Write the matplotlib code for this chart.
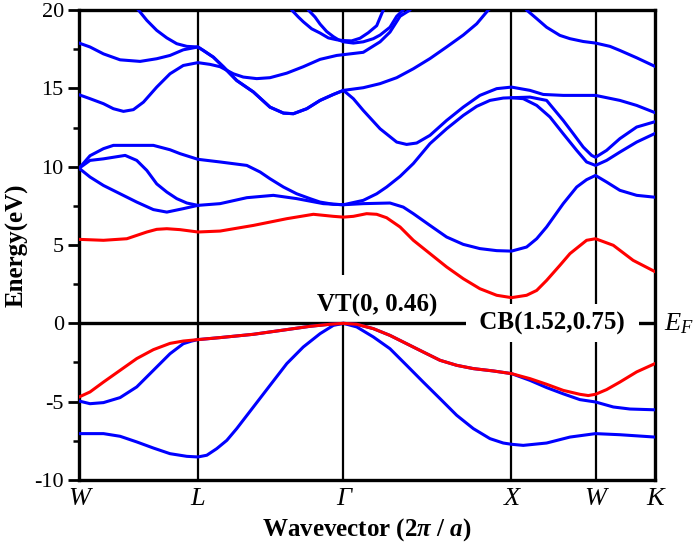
import matplotlib.pyplot as plt
from matplotlib.ticker import MultipleLocator
from matplotlib.transforms import blended_transform_factory

plt.rcParams['font.family'] = 'Liberation Serif'
plt.rcParams['axes.unicode_minus'] = False
plt.rcParams['mathtext.fontset'] = 'custom'
plt.rcParams['mathtext.rm'] = 'Liberation Serif'
plt.rcParams['mathtext.it'] = 'Liberation Serif:italic'
plt.rcParams['mathtext.bf'] = 'Liberation Serif:bold'
plt.rcParams['mathtext.bfit'] = 'Liberation Serif:bold:italic'

# high-symmetry points along the path (units of 2pi/a)
kpt_names = ['W', 'L', 'Γ', 'X', 'W', 'K']
kpt_pos = [0.0, 0.707, 1.573, 2.573, 3.073, 3.427]

# --- valence bands ---
v1_k = [0, 0.065, 0.145, 0.244, 0.343, 0.442, 0.541, 0.620, 0.707, 0.839, 1.037,
        1.236, 1.374, 1.493, 1.573, 1.652, 1.751, 1.850, 1.949, 2.048, 2.148,
        2.247, 2.346, 2.465, 2.573, 2.683, 2.782, 2.881, 2.980, 3.030, 3.073,
        3.139, 3.218, 3.318, 3.427]
v1_e = [-4.7, -4.38, -3.75, -3.0, -2.25, -1.68, -1.28, -1.13, -1.04, -0.91, -0.70,
        -0.40, -0.19, -0.06, 0.0, -0.06, -0.34, -0.77, -1.3, -1.83, -2.36,
        -2.68, -2.89, -3.04, -3.21, -3.53, -3.89, -4.28, -4.53, -4.61, -4.53,
        -4.23, -3.75, -3.1, -2.57]

v2_k = [0, 0.065, 0.145, 0.244, 0.343, 0.442, 0.541, 0.620, 0.670, 0.707, 0.839,
        1.037, 1.236, 1.374, 1.493, 1.573, 1.652, 1.751, 1.850, 1.949, 2.048,
        2.148, 2.247, 2.346, 2.465, 2.573, 2.683, 2.782, 2.881, 2.980, 3.073,
        3.179, 3.278, 3.427]
v2_e = [-4.96, -5.13, -5.06, -4.74, -4.06, -3.0, -1.94, -1.3, -1.13, -1.04, -0.91,
        -0.70, -0.40, -0.19, -0.06, 0.0, -0.06, -0.34, -0.77, -1.3, -1.83,
        -2.36, -2.68, -2.89, -3.04, -3.21, -3.64, -4.1, -4.5, -4.87, -5.02,
        -5.34, -5.47, -5.52]

v3_k = [0, 0.145, 0.244, 0.343, 0.442, 0.541, 0.641, 0.707, 0.760, 0.819, 0.879,
        0.938, 1.037, 1.136, 1.236, 1.334, 1.434, 1.513, 1.573, 1.652, 1.751,
        1.850, 1.949, 2.048, 2.148, 2.247, 2.346, 2.445, 2.524, 2.573, 2.643,
        2.782, 2.921, 3.073, 3.218, 3.427]
v3_e = [-7.04, -7.04, -7.21, -7.57, -7.96, -8.32, -8.49, -8.53, -8.42, -8.0, -7.47,
        -6.72, -5.34, -3.96, -2.57, -1.51, -0.66, -0.13, 0.0, -0.23, -0.87,
        -1.62, -2.68, -3.75, -4.81, -5.87, -6.72, -7.36, -7.64, -7.72, -7.79,
        -7.64, -7.26, -7.04, -7.11, -7.26]

# --- conduction bands ---
c1_k = [0, 0.145, 0.284, 0.403, 0.462, 0.522, 0.601, 0.707, 0.839, 1.037, 1.236,
        1.394, 1.513, 1.573, 1.632, 1.711, 1.771, 1.830, 1.910, 1.989, 2.088,
        2.187, 2.286, 2.385, 2.485, 2.573, 2.663, 2.723, 2.782, 2.861, 2.921,
        3.020, 3.073, 3.179, 3.297, 3.427]
c1_e = [5.36, 5.3, 5.4, 5.83, 6.0, 6.04, 5.98, 5.83, 5.89, 6.25, 6.68,
        6.96, 6.83, 6.78, 6.83, 7.0, 6.96, 6.74, 6.15, 5.3, 4.45,
        3.6, 2.85, 2.21, 1.79, 1.64, 1.79, 2.1, 2.74, 3.7, 4.45,
        5.3, 5.4, 4.98, 4.02, 3.3]

c2_k = [0, 0.065, 0.145, 0.244, 0.343, 0.442, 0.522, 0.620, 0.707, 0.839, 0.998,
        1.156, 1.295, 1.453, 1.573, 1.691, 1.850, 1.929, 1.989, 2.088, 2.187,
        2.286, 2.385, 2.485, 2.573, 2.663, 2.723, 2.782, 2.881, 2.961, 3.020,
        3.073, 3.139, 3.218, 3.318, 3.427]
c2_e = [9.9, 9.34, 8.8, 8.27, 7.74, 7.26, 7.1, 7.32, 7.53, 7.64, 8.02,
        8.17, 7.96, 7.64, 7.57, 7.64, 7.68, 7.42, 7.0, 6.25, 5.51,
        5.04, 4.77, 4.64, 4.61, 4.87, 5.4, 6.15, 7.64, 8.7, 9.17,
        9.44, 9.02, 8.49, 8.17, 8.05]

c3_k = [0, 0.065, 0.145, 0.274, 0.343, 0.403, 0.462, 0.522, 0.581, 0.641, 0.707]
c3_e = [9.9, 10.4, 10.5, 10.72, 10.4, 9.76, 8.9, 8.38, 7.96, 7.68, 7.53]

c4_k = [0, 0.065, 0.145, 0.204, 0.442, 0.541, 0.601, 0.707, 0.839, 0.998, 1.077,
        1.136, 1.216, 1.295, 1.374, 1.434, 1.513, 1.573, 1.691, 1.771, 1.830,
        1.910, 1.989, 2.088, 2.187, 2.286, 2.366, 2.445, 2.524, 2.573, 2.683,
        2.782, 2.881, 2.941, 3.0, 3.05, 3.073, 3.139, 3.218, 3.318, 3.427]
c4_e = [9.9, 10.7, 11.15, 11.36, 11.36, 11.08, 10.83, 10.47, 10.3, 10.08, 9.66,
        9.23, 8.7, 8.27, 7.96, 7.74, 7.6, 7.57, 7.85, 8.27, 8.7,
        9.38, 10.2, 11.47, 12.42, 13.27, 13.85, 14.23, 14.38, 14.4, 14.44,
        14.23, 12.95, 12.1, 11.25, 10.72, 10.6, 11.04, 11.79, 12.53, 12.87]

c5_k = [2.573, 2.643, 2.723, 2.802, 2.881, 2.961, 3.020, 3.073, 3.139, 3.218,
        3.318, 3.427]
c5_e = [14.4, 14.34, 13.91, 13.17, 12.1, 11.04, 10.3, 10.08, 10.4, 10.93,
        11.57, 12.12]

c6_k = [0, 0.065, 0.145, 0.204, 0.264, 0.323, 0.383, 0.462, 0.541, 0.620, 0.707,
        0.779, 0.839, 0.918, 0.977, 1.057, 1.136, 1.236, 1.334, 1.434, 1.533,
        1.573, 1.691, 1.791, 1.850, 1.910, 1.969, 2.0]
c6_e = [14.59, 14.34, 14.02, 13.7, 13.53, 13.64, 14.12, 15.08, 15.93, 16.46, 16.64,
        16.53, 16.38, 15.93, 15.72, 15.62, 15.68, 15.97, 16.38, 16.85, 17.1,
        17.15, 17.3, 17.97, 18.59, 19.6, 20.0, 20.5]

c7_k = [0, 0.065, 0.145, 0.244, 0.363, 0.462, 0.541, 0.620, 0.707, 0.739, 0.799,
        0.858, 0.938, 1.037, 1.136, 1.216, 1.275, 1.355, 1.434, 1.513, 1.573,
        1.691, 1.791, 1.890, 1.989, 2.088, 2.187, 2.286, 2.366, 2.435, 2.573,
        2.663, 2.723, 2.782, 2.861, 2.921, 3.0, 3.073, 3.159, 3.218, 3.318,
        3.427]
c7_e = [17.89, 17.64, 17.2, 16.82, 16.72, 16.89, 17.1, 17.46, 17.64, 17.42, 16.99,
        16.38, 15.5, 14.77, 13.8, 13.42, 13.38, 13.7, 14.23, 14.61, 14.87,
        15.04, 15.3, 15.68, 16.25, 16.9, 17.64, 18.4, 19.12, 20.0, 21.3,
        20.0, 19.45, 18.9, 18.38, 18.17, 17.99, 17.89, 17.68, 17.42, 16.95,
        16.4]

c8_k = [0.30, 0.353, 0.403, 0.462, 0.522, 0.581, 0.641, 0.707, 0.739, 0.799,
        0.858, 0.938, 1.037, 1.136, 1.216, 1.275, 1.355, 1.434, 1.513, 1.573,
        1.632, 1.691, 1.791, 1.890, 1.949, 2.009, 2.088, 2.187, 2.286, 2.385,
        2.485, 2.573, 2.683, 2.762, 2.881, 3.073, 3.218, 3.318, 3.427]
c8_e = [20.6, 20.0, 19.34, 18.7, 18.22, 17.85, 17.68, 17.64, 17.42, 16.99,
        16.38, 15.5, 14.77, 13.8, 13.42, 13.38, 13.7, 14.23, 14.61, 14.87,
        14.34, 13.59, 12.42, 11.57, 11.42, 11.51, 12.0, 12.95, 13.8, 14.55,
        14.98, 15.08, 14.87, 14.61, 14.55, 14.55, 14.23, 13.91, 13.45]

c9_k = [1.22, 1.265, 1.305, 1.334, 1.384, 1.434, 1.483, 1.533, 1.573, 1.622,
        1.672, 1.721, 1.771, 1.810, 1.85]
c9_e = [21.0, 20.0, 19.55, 19.25, 18.8, 18.53, 18.22, 18.1, 18.05, 18.03,
        18.2, 18.55, 19.0, 20.0, 21.0]

c10_k = [1.33, 1.364, 1.404, 1.434, 1.473, 1.513, 1.543, 1.573, 1.632, 1.691,
         1.751, 1.791, 1.850, 1.890, 1.929, 1.96]
c10_e = [21.0, 20.0, 19.55, 19.1, 18.63, 18.3, 18.1, 17.97, 17.89, 17.97,
         18.17, 18.4, 18.9, 19.6, 20.0, 21.0]

blue_bands = [(v2_k, v2_e), (v3_k, v3_e), (c2_k, c2_e), (c3_k, c3_e), (c4_k, c4_e),
              (c5_k, c5_e), (c6_k, c6_e), (c7_k, c7_e), (c8_k, c8_e),
              (c9_k, c9_e), (c10_k, c10_e)]
red_bands = [(v1_k, v1_e), (c1_k, c1_e)]

fig = plt.figure(figsize=(7.0, 5.47), dpi=100)
ax = fig.add_axes([0.113, 0.1225, 0.8227, 0.8592])

for k, e in blue_bands:
    ax.plot(k, e, color='#0000ff', lw=2.2, zorder=4, solid_joinstyle='round')
for k, e in red_bands:
    ax.plot(k, e, color='#ff0000', lw=2.2, zorder=5, solid_joinstyle='round')

# vertical lines at high-symmetry points
ax.vlines([kpt_pos[1], kpt_pos[3], kpt_pos[4]], -10, 20, color='black', lw=1.6, zorder=2)
ax.vlines([kpt_pos[2], kpt_pos[2]], [-10, 3.06], [0, 20], color='black', lw=1.6, zorder=2)

# Fermi level
ax.axhline(0, color='black', lw=2.4, zorder=2)

ax.text(1.416, 1.15, 'VT(0, 0.46)', fontsize=18, fontweight='bold',
        ha='left', va='center', zorder=6)
ax.text(2.817, 0.0, ' CB(1.52,0.75) ', fontsize=18, fontweight='bold',
        ha='center', va='center', zorder=3,
        bbox=dict(boxstyle='square,pad=0.3', facecolor='white', edgecolor='none'))

trans = blended_transform_factory(ax.transAxes, ax.transData)
ax.text(1.015, 0.0, r'$E_F$', fontsize=19, ha='left', va='center',
        transform=trans, clip_on=False)

ax.set_xlim(kpt_pos[0], kpt_pos[-1])
ax.set_ylim(-10, 20)
ax.set_xticks(kpt_pos)
ax.set_xticklabels(kpt_names, fontsize=19, fontstyle='italic')
ax.tick_params(axis='x', length=0, pad=6)

ax.yaxis.set_major_locator(MultipleLocator(5))
ax.yaxis.set_minor_locator(MultipleLocator(2.5))
ax.tick_params(axis='y', which='major', direction='out', length=8, width=2,
               labelsize=16, pad=3)
ax.tick_params(axis='y', which='minor', direction='out', length=4.5, width=1.8)
ax.tick_params(right=False, top=False)

for s in ax.spines.values():
    s.set_linewidth(2.4)

ax.set_xlabel(r'Wavevector (2$\mathbfit{\pi}$ / $\mathbfit{a}$)', fontsize=18,
              fontweight='bold', labelpad=4)
ax.set_ylabel('Energy(eV)', fontsize=18, fontweight='bold', labelpad=4)

fig.savefig('out.png', dpi=100)
